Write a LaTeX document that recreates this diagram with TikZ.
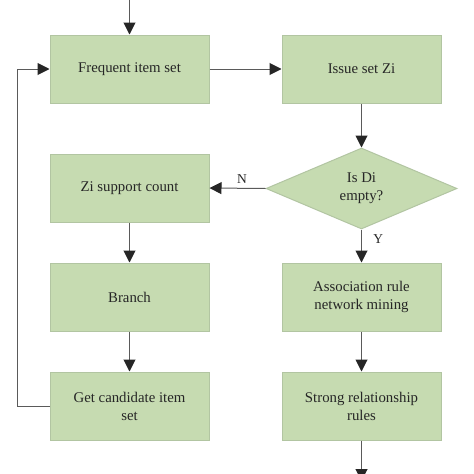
\documentclass[tikz,border=0pt]{standalone}
\usepackage{fontspec}
\setmainfont{Liberation Serif}
\usetikzlibrary{arrows.meta,shapes.geometric}
\definecolor{boxfill}{HTML}{C6DBB1}
\definecolor{boxline}{HTML}{B2C5A2}
\definecolor{lineg}{HTML}{5A5A5A}
\definecolor{txt}{HTML}{262626}
\tikzset{
  box/.style={draw=boxline, fill=boxfill, line width=1pt, minimum width=159pt, minimum height=68pt, inner sep=2pt, align=center, text=txt, font=\fontsize{14.8}{18}\selectfont},
  decision/.style={diamond, draw=boxline, fill=boxfill, line width=1pt, minimum width=191pt, minimum height=81pt, inner sep=0pt, align=center, text=txt, font=\fontsize{14.8}{18}\selectfont},
  conn/.style={draw=lineg, line width=1pt, -{Triangle[length=12pt,width=12pt,color=black!85]}},
  lbl/.style={text=txt, font=\fontsize{13.5}{15}\selectfont}
}
\begin{document}
\begin{tikzpicture}[x=1pt,y=-1pt]
\clip (0,0) rectangle (474,474);
\fill[white] (0,0) rectangle (474,474);
\node[box] (freq) at (129.5,69) {Frequent item set};
\node[box] (issue) at (361.5,69) {Issue set Zi};
\node[box] (zisup) at (129.5,188) {Zi support count};
\node[decision] (dec) at (361.5,188.5) {Is Di\\empty?};
\node[box] (branch) at (129.5,297) {Branch};
\node[box] (assoc) at (361.5,297) {Association rule\\network mining};
\node[box] (getc) at (129.5,406) {Get candidate item\\set};
\node[box] (strong) at (361.5,406) {Strong relationship\\rules};
\coordinate (start) at (129.5,-2);
\coordinate (fin) at (361.5,481);
\coordinate (loopb) at (17,406);
\coordinate (loopt) at (17,69);
\draw[conn] (start) -- (freq.north);
\draw[conn] (freq.east) -- (issue.west);
\draw[conn] (issue.south) -- (dec.north);
\draw[conn] (dec.west) -- node[lbl, above, pos=0.42, yshift=1pt] {N} (zisup.east);
\draw[conn] (dec.south) -- node[lbl, right, pos=0.3, xshift=8pt] {Y} (assoc.north);
\draw[conn] (zisup.south) -- (branch.north);
\draw[conn] (branch.south) -- (getc.north);
\draw[conn] (assoc.south) -- (strong.north);
\draw[conn] (strong.south) -- (fin);
\draw[conn] (getc.west) -- (loopb) -- (loopt) -- (freq.west);
\end{tikzpicture}
\end{document}
